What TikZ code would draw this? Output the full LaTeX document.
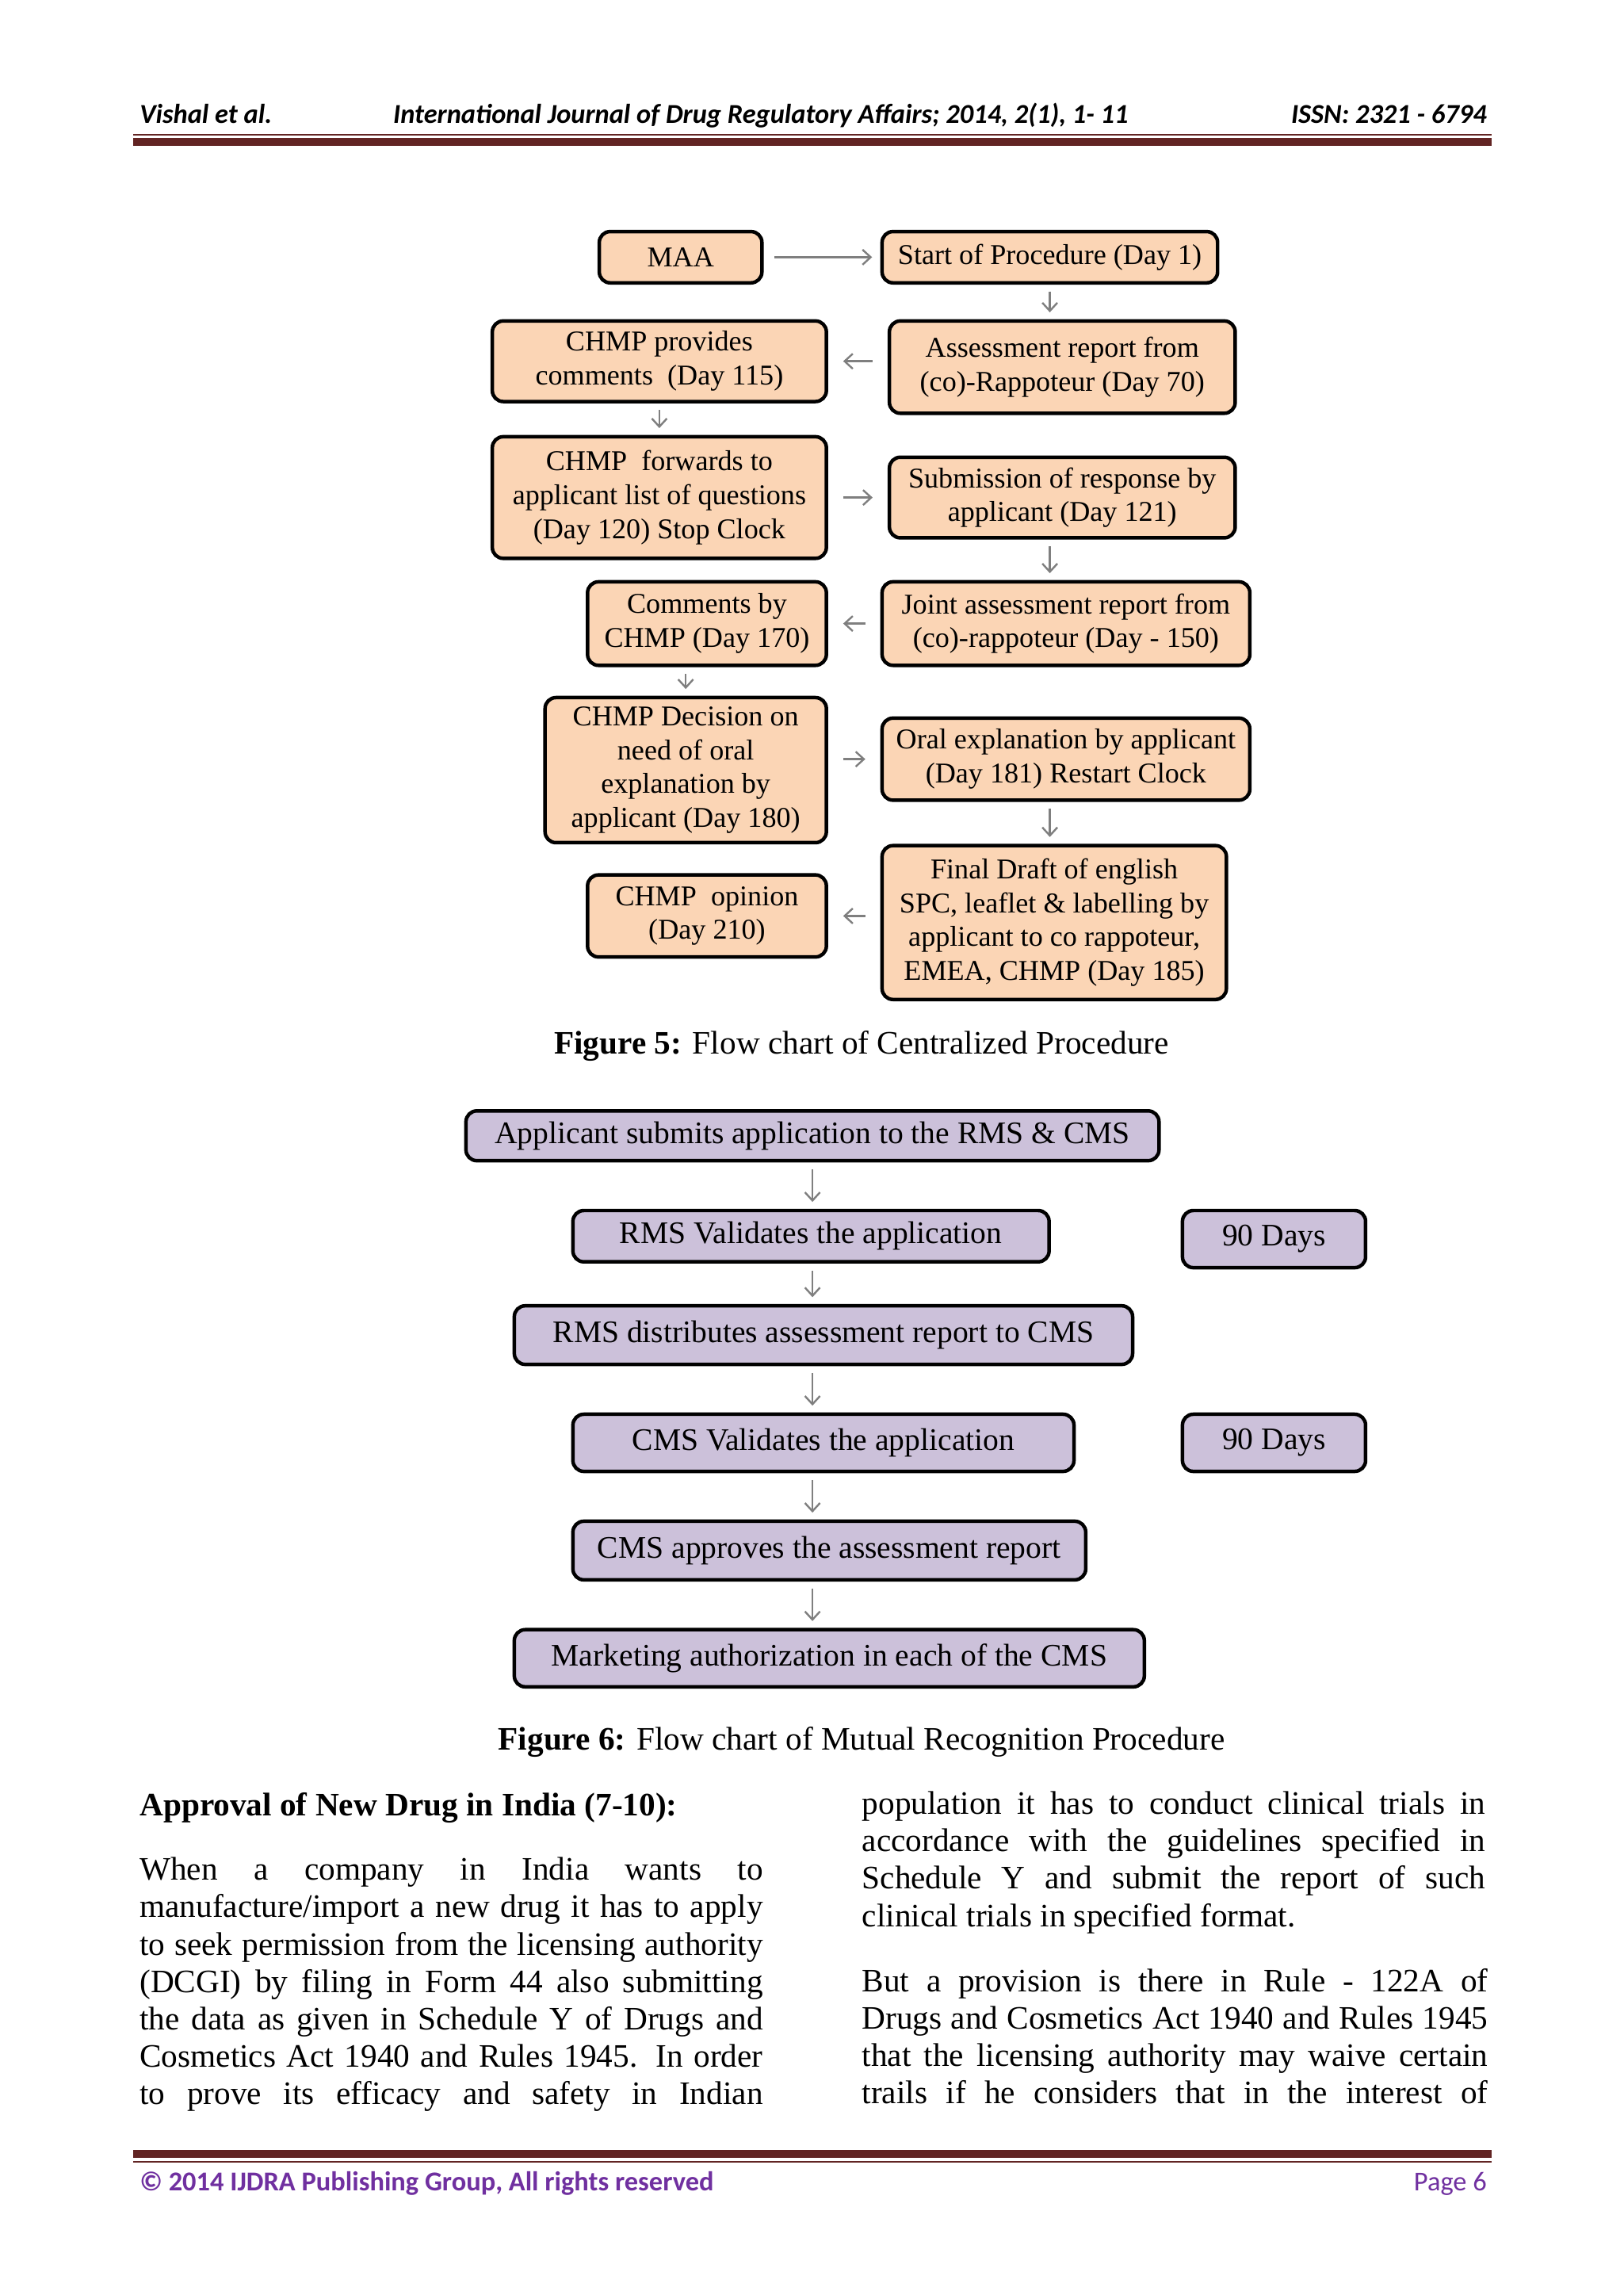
\documentclass[tikz,border=0pt]{standalone}
\usepackage{fontspec}
\setmainfont{Liberation Serif}
\newfontfamily\calibri{Carlito}
\usetikzlibrary{arrows.meta}

\definecolor{peach}{HTML}{FBD5B5}
\definecolor{lilac}{HTML}{CCC1DA}
\definecolor{barmaroon}{HTML}{622423}
\definecolor{footpurple}{HTML}{7030A0}
\definecolor{arrowgray}{HTML}{7F7F7F}

\begin{document}
\begin{tikzpicture}
[x=0.5372pt,y=-0.5372pt,
  boxDecorate/.style={draw,line width=1.3pt,rounded corners=4pt,align=center,inner sep=0pt},%
  peachDecorate/.style={boxDecorate,fill=peach,font=\fontsize{10.5}{12.4}\selectfont},%
  lilacDecorate/.style={boxDecorate,fill=lilac,font=\fontsize{11.5}{13.5}\selectfont},%
  arrowDecorate/.style={-{Straight Barb[length=3pt,width=5.5pt]},arrowgray,line width=0.7pt,
    shorten <=2.5pt,shorten >=2.5pt},%
  sideArrow/.style={arrowDecorate,shorten <=5.5pt,shorten >=5.5pt},%
  headDecorate/.style={inner sep=0pt,font=\calibri\bfseries\itshape\fontsize{10}{12}\selectfont},%
  footDecorate/.style={inner sep=0pt,text=footpurple,font=\calibri\fontsize{10}{12}\selectfont},%
  bodyDecorate/.style={anchor=base west,inner sep=0pt,font=\fontsize{12}{14}\selectfont}]
\fill[white] (0,0) rectangle (1108,1566);
\useasboundingbox (0,0) rectangle (1108,1566);

%% running head and foot
\node[headDecorate,anchor=base west] (author) at (95,84) {Vishal et al.};
\node[headDecorate,anchor=base west] (journal) at (268,84)
  {International Journal of Drug Regulatory Affairs; 2014, 2(1), 1- 11};
\node[headDecorate,anchor=base east] (issn) at (1015,84) {ISSN: 2321 - 6794};
\draw[barmaroon,line width=0.5pt] (91,92) -- (1018,92);
\fill[barmaroon] (91,94.2) rectangle (1018,99.5);
\fill[barmaroon] (91,1467) rectangle (1018,1472.3);
\draw[barmaroon,line width=0.5pt] (91,1475.2) -- (1018,1475.2);
\node[footDecorate,anchor=base west] (copyright) at (95,1495)
  {\bfseries © 2014 IJDRA Publishing Group, All rights reserved};
\node[footDecorate,anchor=base east] (page) at (1015,1495) {Page 6};

%% figure 5 boxes
\foreach \boxname/\x/\y/\bw/\bh/\txt in {
  maa/464.5/175.5/111/35/{MAA},
  start/716.5/175.5/229/35/{Start of Procedure (Day 1)},
  provides/450/246.5/228/55/{CHMP provides\\comments\ \ (Day 115)},
  assess/725/250.5/236/63/{Assessment report from\\(co)-Rappoteur (Day 70)},
  forwards/450/339.5/228/83/{CHMP\ \ forwards to\\applicant list of questions\\(Day 120) Stop Clock},
  submission/725/339.5/236/55/{Submission of response by\\applicant (Day 121)},
  comments/482.5/425.5/163/57/{Comments by\\CHMP (Day 170)},
  joint/727.5/425.5/251/57/{Joint assessment report from\\(co)-rappoteur (Day - 150)},
  decision/468/525.5/192/99/{CHMP Decision on\\need of oral\\explanation by\\applicant (Day 180)},
  oral/727.5/518/251/56/{Oral explanation by applicant\\(Day 181) Restart Clock},
  final/719.5/629.5/235/105/{Final Draft of english\\SPC, leaflet \& labelling by\\applicant to co rappoteur,\\EMEA,\ CHMP (Day 185)},
  opinion/482.5/625/163/56/{CHMP\ \ opinion\\(Day 210)}}
{
  \node[peachDecorate,minimum width=\bw*0.5372pt,minimum height=\bh*0.5372pt] (\boxname) at (\x,\y) {\txt};
}
%% figure 5 arrows
\draw[arrowDecorate,shorten <=4pt,shorten >=3pt] (maa.east) -- (start.west);
\draw[arrowDecorate] (start.south) -- (start.south |- assess.north);
\draw[sideArrow] (assess.west |- provides) -- (provides.east);
\draw[arrowDecorate] (provides.south) -- (forwards.north);
\draw[sideArrow] (forwards.east) -- (submission.west |- forwards);
\draw[arrowDecorate] (submission.south -| start) -- (joint.north -| start);
\draw[sideArrow] (joint.west |- comments) -- (comments.east);
\draw[arrowDecorate] (comments.south -| decision) -- (decision.north);
\draw[sideArrow] (decision.east |- oral) -- (oral.west);
\draw[arrowDecorate] (oral.south -| start) -- (final.north -| start);
\draw[sideArrow] (final.west |- opinion) -- (opinion.east);
\node[anchor=base,inner sep=0pt,font=\fontsize{12}{14}\selectfont] (caption5) at (588,719)
  {\textbf{Figure 5:} Flow chart of Centralized Procedure};

%% figure 6 boxes
\foreach \boxname/\x/\y/\bw/\bh/\txt in {
  apply/554.5/775/473/34/{Applicant submits application to the RMS \& CMS},
  rmsval/553.5/843.5/325/35/{RMS Validates the application},
  daysA/869.5/845.5/125/39/{90 Days},
  rmsdist/562/911/422/40/{RMS distributes assessment report to CMS},
  cmsval/562/984.5/342/39/{CMS Validates the application},
  daysB/869.5/984.5/125/39/{90 Days},
  approve/566/1058/350/40/{CMS approves the assessment report},
  market/566/1131.5/430/39/{Marketing authorization in each of the CMS}}
{
  \node[lilacDecorate,minimum width=\bw*0.5372pt,minimum height=\bh*0.5372pt] (\boxname) at (\x,\y) {\txt};
}
%% figure 6 arrows
\foreach \startnode/\endnode in {apply/rmsval, rmsval/rmsdist, rmsdist/cmsval, cmsval/approve, approve/market}
{
  \draw[arrowDecorate] (\startnode.south -| apply) -- (\endnode.north -| apply);
}
\node[anchor=base,inner sep=0pt,font=\fontsize{12}{14}\selectfont] (caption6) at (588,1194)
  {\textbf{Figure 6:} Flow chart of Mutual Recognition Procedure};

%% two columns of text
\node[bodyDecorate] (heading) at (95,1239) {\textbf{Approval of New Drug in India (7-10):}};
\foreach \i/\txt in {
  0/{When a company in India wants to},
  1/{manufacture/import a new drug it has to apply},
  2/{to seek permission from the licensing authority},
  3/{(DCGI) by filing in Form 44 also submitting},
  4/{the data as given in Schedule Y of Drugs and},
  5/{Cosmetics Act 1940 and Rules 1945. In order},
  6/{to prove its efficacy and safety in Indian}}
{
  \node[bodyDecorate] (left\i) at (95,1283+25.5*\i) {\makebox[228.5pt][s]{\txt}};
}
\foreach \i/\txt in {
  0/{population it has to conduct clinical trials in},
  1/{accordance with the guidelines specified in},
  2/{Schedule Y and submit the report of such}}
{
  \node[bodyDecorate] (right\i) at (588,1238+25.5*\i) {\makebox[228.5pt][s]{\txt}};
}
\node[bodyDecorate] (right3) at (588,1314.5) {clinical trials in specified format.};
\foreach \i/\txt in {
  4/{But a provision is there in Rule - 122A of},
  5/{Drugs and Cosmetics Act 1940 and Rules 1945},
  6/{that the licensing authority may waive certain},
  7/{trails if he considers that in the interest of}}
{
  \node[bodyDecorate] (right\i) at (588,1359+25.5*\i-102) {\makebox[229.5pt][s]{\txt}};
}
\end{tikzpicture}
\end{document}
